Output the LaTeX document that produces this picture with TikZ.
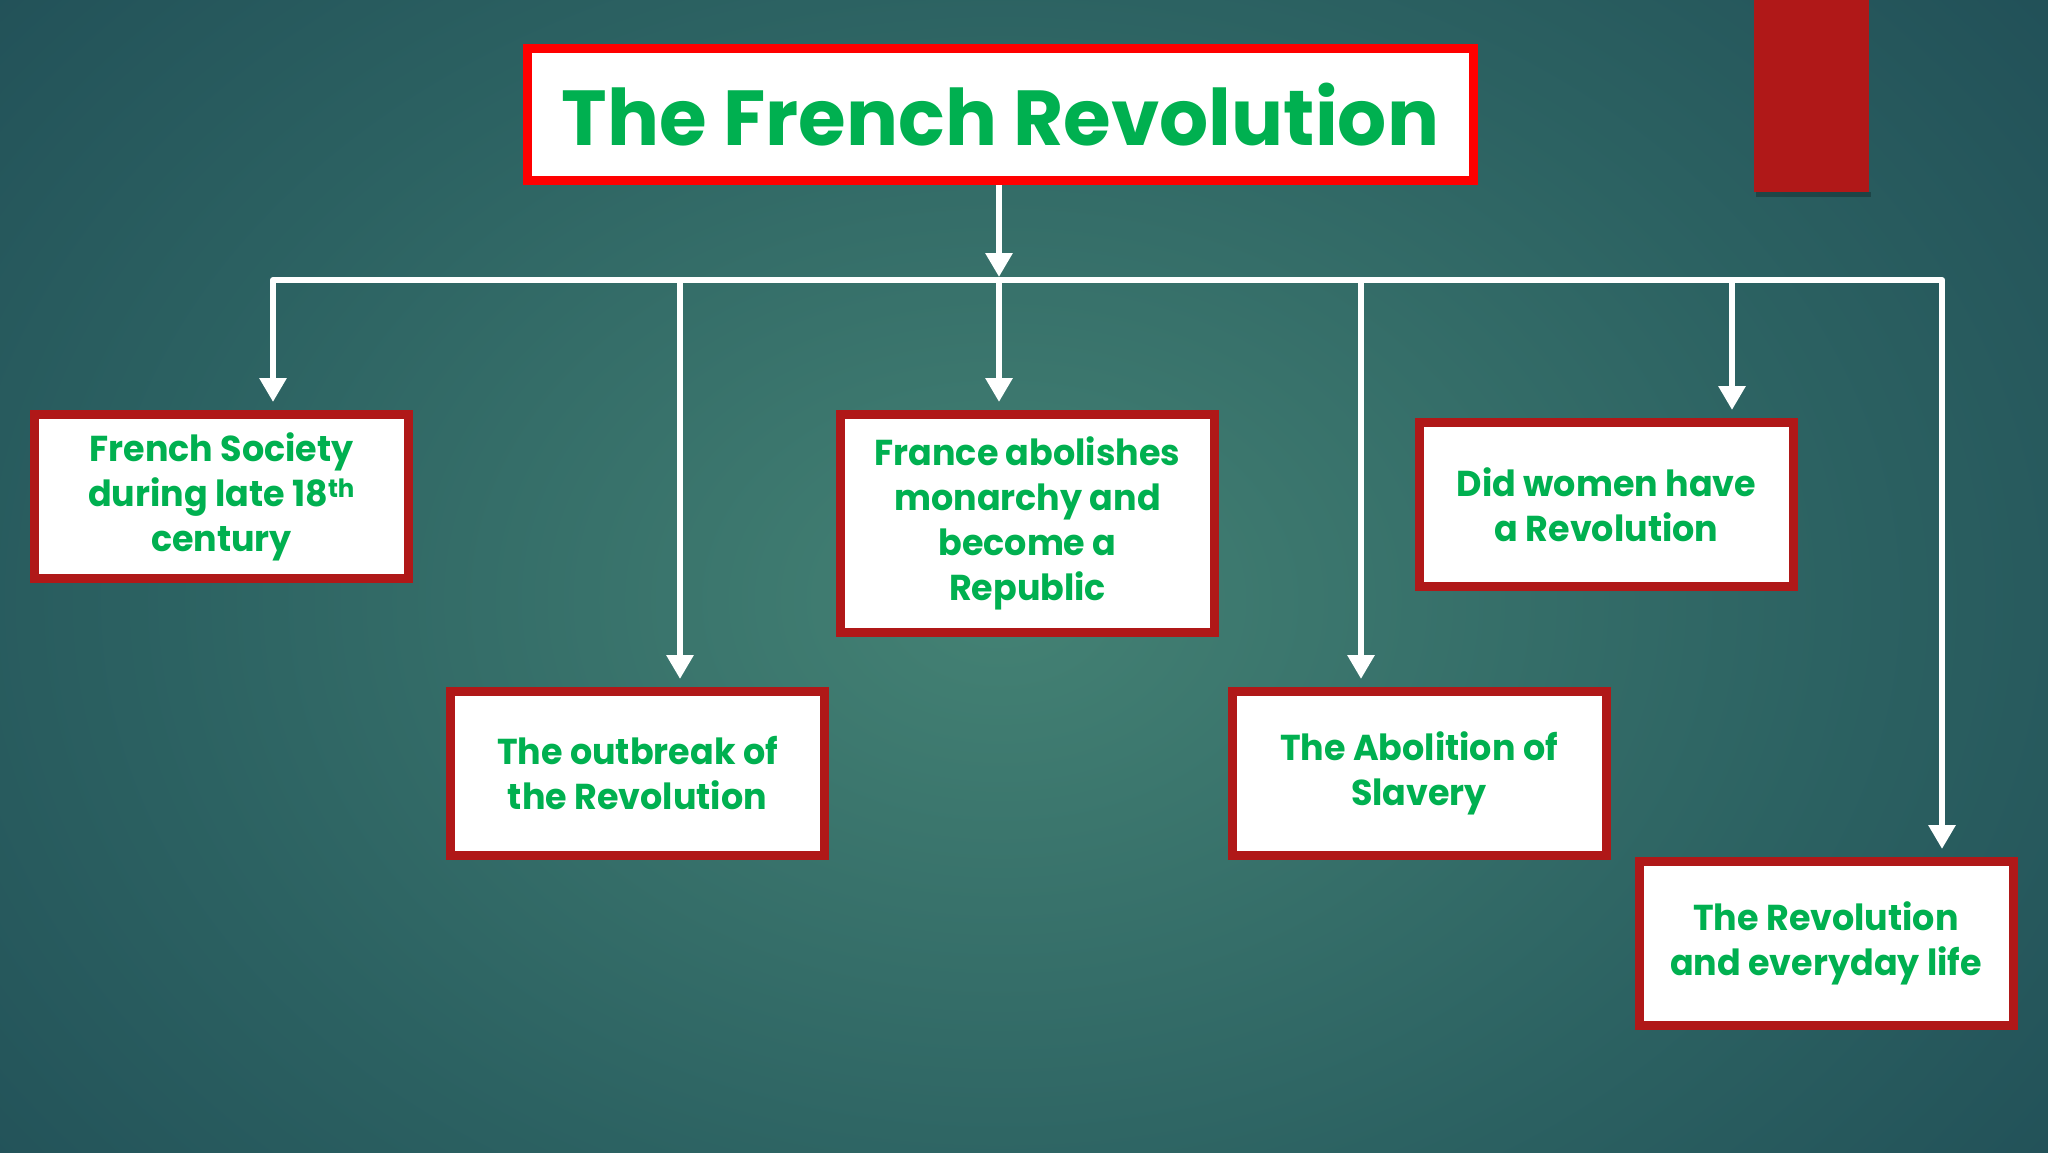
\documentclass[tikz,border=0pt]{standalone}
\usepackage{fontspec}
\setmainfont{Poppins}[FakeStretch=0.97]
\newfontfamily\titlefont{Poppins}[FakeStretch=0.99]
\usetikzlibrary{arrows.meta}
\definecolor{bginner}{RGB}{68,130,116}
\definecolor{bgmid}{RGB}{44,98,98}
\definecolor{bgouter}{RGB}{19,56,74}
\definecolor{boxred}{RGB}{176,24,24}
\definecolor{titlered}{RGB}{255,0,0}
\definecolor{txtgreen}{RGB}{0,176,80}
\pgfdeclareradialshading{slidebg}{\pgfpoint{0bp}{0bp}}{color(0bp)=(bginner); color(18bp)=(bgmid); color(44bp)=(bgouter); color(72bp)=(bgouter)}
\tikzset{
  topic/.style={draw=boxred, line width=9pt, fill=white, text=txtgreen,
    font=\bfseries\fontsize{36}{45}\selectfont, align=center, inner sep=0pt,
    minimum width=374pt, minimum height=164pt},
  titlebox/.style={draw=titlered, line width=9pt, fill=white, text=txtgreen,
    font=\titlefont\bfseries\fontsize{78}{80}\selectfont, inner sep=0pt,
    minimum width=946pt, minimum height=132pt},
  wire/.style={draw=white, line width=6pt},
  arrow/.style={wire, -{Triangle[width=26pt,length=24pt]}, shorten >=8pt}
}
\begin{document}
\begin{tikzpicture}[x=1pt,y=-1pt]
\useasboundingbox (0,0) rectangle (2048,1152);
\begin{scope}
\clip (0,0) rectangle (2048,1152);
\shade[shading=slidebg] (-150,-250) rectangle (2150,1450);
\end{scope}
\fill[black,opacity=0.25] (1756,192) rectangle (1871,197);
\fill[boxred] (1754,0) rectangle (1869,192);

\node[titlebox] (title) at (1000.5,114.5) {The French Revolution};

\node[topic] (fs) at (221.5,496.5) {French Society\\during late 18\textsuperscript{th}\\century};
\node[topic] (ob) at (637.5,773.5) {The outbreak of\\the Revolution};
\node[topic, minimum height=218pt] (fr) at (1027.5,523.5) {France abolishes\\monarchy and\\become a\\Republic};
\node[topic] (dw) at (1606.5,504.5) {Did women have\\a Revolution};
\node[topic] (ab) at (1419,773.5) {The Abolition of\\Slavery};
\node[topic] (ev) at (1826,943.5) {The Revolution\\and everyday life};

\coordinate (b1) at (273,280);
\coordinate (b2) at (680,280);
\coordinate (b3) at (999,280);
\coordinate (b4) at (1361,280);
\coordinate (b5) at (1732,280);
\coordinate (b6) at (1942,280);

\draw[arrow, shorten >=3pt] (title.south -| b3) -- (b3);
\draw[wire, line join=round, line cap=round] (b1) -- (b6);
\draw[arrow] (b1) -- (b1 |- fs.north);
\draw[arrow] (b2) -- (b2 |- ob.north);
\draw[arrow] (b3) -- (b3 |- fr.north);
\draw[arrow] (b4) -- (b4 |- ab.north);
\draw[arrow] (b5) -- (b5 |- dw.north);
\draw[arrow] (b6) -- (b6 |- ev.north);
\end{tikzpicture}
\end{document}
